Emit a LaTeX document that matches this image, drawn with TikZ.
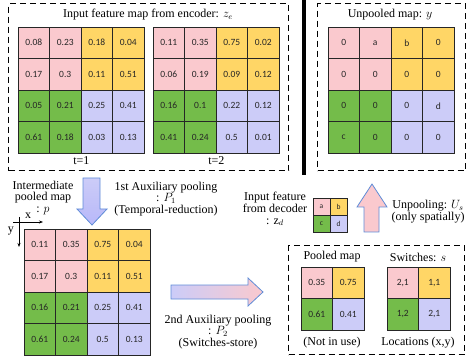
\documentclass[tikz,border=0pt]{standalone}
\usepackage{fontspec}
\setmainfont{Liberation Serif}
\newfontfamily\cellfont{Carlito}
\usetikzlibrary{arrows.meta,positioning,fit}

\definecolor{q0}{RGB}{250,201,206}
\definecolor{q1}{RGB}{255,214,102}
\definecolor{q2}{RGB}{116,188,74}
\definecolor{q3}{RGB}{204,204,248}
\definecolor{arrowline}{RGB}{95,140,215}

% grid of coloured cells: [opts]{name}{x}{y}{cells per side}{cell size}{values}
\newcommand{\cellgrid}[7][]{%
  \foreach \v [count=\k from 0] in {#7} {
    \pgfmathtruncatemacro\gr{\k/#5}
    \pgfmathtruncatemacro\gc{mod(\k,#5)}
    \pgfmathtruncatemacro\gq{(\gr>=#5/2)*2+(\gc>=#5/2)}
    \node[cell,minimum size=#6pt,fill=q\gq,#1] (#2-\gr-\gc)
      at ({#3+(\gc+0.5)*#6},{#4+(\gr+0.5)*#6}) {\v};
  }}

\begin{document}
\begin{tikzpicture}[
  x=1pt,y=-1pt,
  cell/.style={draw=black!85,line width=0.6pt,inner sep=0pt,font=\cellfont\fontsize{9.5}{11}\selectfont,text=black!85},
  lbl/.style={align=center,inner sep=0pt,font=\fontsize{12}{11.8}\selectfont},
  dashbox/.style={draw,line width=1.3pt,dash pattern=on 6pt off 4pt,anchor=north west,inner sep=0pt},
  blockarrow/.style={draw=arrowline,line width=0.8pt},
  axis/.style={-{Stealth[length=4pt,width=3pt]},line width=0.6pt}
]
\useasboundingbox (0,0) rectangle (474,358);

% input feature map (encoder)
\node[dashbox,minimum width=280pt,minimum height=167pt] (encbox) at (8,3) {};
\node[lbl] (enctitle) at (148,15) {Input feature map from encoder: $z_e$};
\cellgrid{ta}{18}{27}{4}{31.5}{0.08,0.23,0.18,0.04,0.17,0.3,0.11,0.51,0.05,0.21,0.25,0.41,0.61,0.18,0.03,0.13}
\cellgrid{tb}{153}{27}{4}{31.5}{0.11,0.35,0.75,0.02,0.06,0.19,0.09,0.12,0.16,0.1,0.22,0.12,0.41,0.24,0.5,0.01}
\node[lbl,below=3pt of ta-3-1.south east] (talab) {t=1};
\node[lbl,below=3pt of tb-3-1.south east] (tblab) {t=2};

% separator
\draw[line width=3.5pt] (304,0) -- (304,175);

% unpooled map
\node[dashbox,minimum width=148pt,minimum height=167pt] (unpbox) at (317,3) {};
\node[lbl] (unptitle) at (390,15) {Unpooled map: $y$};
\cellgrid{yy}{328}{27}{4}{31.5}{0,a,b,0,0,0,0,0,0,0,0,d,c,0,0,0}

% first pooling
\shade[blockarrow,top color=q3,bottom color=q3!90!blue] (83,178) -- (100,178) -- (100,209) -- (107,209)
  -- (92,225) -- (77,209) -- (83,209) -- cycle;
\node[lbl] (interlab) at (43,198) {Intermediate\\pooled map\\: $p$};
\node[lbl] (p1lab) at (166,199) {1st Auxiliary pooling\\: $P_1$\\(Temporal-reduction)};

% axes
\coordinate (ax-o) at (13,222);
\coordinate (ax-x) at (43,222);
\coordinate (ay-o) at (19,217);
\coordinate (ay-y) at (19,247);
\draw[axis] (ax-o) -- (ax-x);
\draw[axis] (ay-o) -- (ay-y);
\node[lbl] (xlab) at (28,216) {x};
\node[lbl] (ylab) at (11,231) {y};

% intermediate pooled map
\cellgrid{pp}{24}{229}{4}{31.5}{0.11,0.35,0.75,0.04,0.17,0.3,0.11,0.51,0.16,0.21,0.25,0.41,0.61,0.24,0.5,0.13}

% second pooling
\shade[blockarrow,left color=q3,right color=q0] (171,285) -- (248,285) -- (248,278) -- (263,292)
  -- (248,306) -- (248,299) -- (171,299) -- cycle;
\node[lbl] (p2lab) at (218,332) {2nd Auxiliary pooling\\: $P_2$\\(Switches-store)};

% decoder input and unpooling
\node[lbl] (declab) at (275,209) {Input feature\\from decoder\\: $\mathrm{z}_d$};
\cellgrid[font=\cellfont\fontsize{7.5}{8}\selectfont]{zd}{313}{198}{2}{17}{a,b,c,d}
\shade[blockarrow,top color=q0,bottom color=q0] (372,184) -- (387,207) -- (379,207) -- (379,232)
  -- (364,232) -- (364,207) -- (357,207) -- cycle;
\node[lbl] (uslab) at (428,212) {Unpooling: $U_s$\\(only spatially)};

% pooled map and switches
\node[dashbox,minimum width=176pt,minimum height=109pt] (swbox) at (288,245) {};
\node[lbl] (pmtitle) at (332,257) {Pooled map};
\node[lbl] (swtitle) at (418,257) {Switches: $s$};
\cellgrid{pm}{301}{267}{2}{31.5}{0.35,0.75,0.61,0.41}
\cellgrid{sw}{387}{267}{2}{31.5}{{2,1},{1,1},{1,2},{2,1}}
\node[lbl] (pmnote) at (332,343) {(Not in use)};
\node[lbl] (swnote) at (418,343) {Locations (x,y)};
\end{tikzpicture}
\end{document}
